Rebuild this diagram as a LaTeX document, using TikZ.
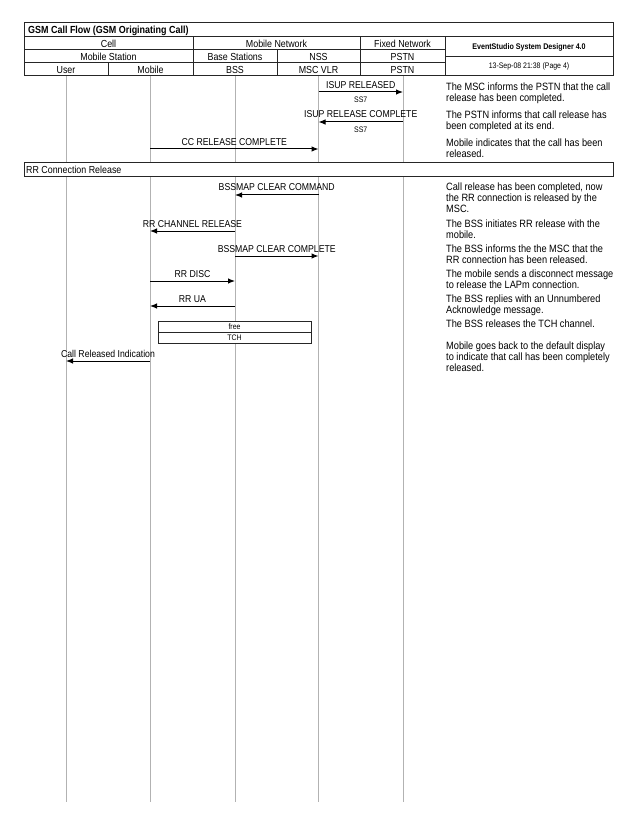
\documentclass[tikz,border=0pt]{standalone}
\usepackage{fontspec}
\setmainfont[FakeStretch=0.87]{Liberation Sans}
\usetikzlibrary{arrows.meta}
\begin{document}
\begin{tikzpicture}[x=1pt,y=-1pt,
  frame/.style={draw=black!85,line width=1pt},
  hdr/.style={font=\fontsize{10.2}{11}\selectfont,inner sep=0pt},
  life/.style={draw=black!30,line width=1pt},
  msg/.style={draw=black,line width=1pt,-{Latex[length=7pt,width=5.5pt]}},
  lbl/.style={font=\fontsize{10}{11}\selectfont,inner sep=0pt,anchor=base},
  small/.style={font=\fontsize{8}{9}\selectfont,inner sep=0pt},
  note/.style={font=\fontsize{10.6}{11}\selectfont,inner sep=0pt,anchor=north west,align=left}]
\useasboundingbox (0,0) rectangle (638,826);
\fill[white] (0,0) rectangle (638,826);
% lifelines
\foreach \n/\x in {user/66,mob/150,bss/235,msc/318.5,pstn/403}{
  \coordinate (\n-t) at (\x,76);
  \coordinate (\n-b) at (\x,802);
  \draw[life] (\n-t) -- (\n-b);
}
% header
\draw[frame,fill=white] (24,23) rectangle (613,76);
\draw[frame] (24,37) -- (613,37);
\draw[frame] (24,50) -- (445,50);
\draw[frame] (24,63) -- (445,63);
\draw[frame] (445,57) -- (613,57);
\draw[frame] (445,37) -- (445,76);
\draw[frame] (193,37) -- (193,76);
\draw[frame] (360,37) -- (360,76);
\draw[frame] (277,50) -- (277,76);
\draw[frame] (108,63) -- (108,76);
\node[font=\bfseries\fontsize{10.3}{11}\selectfont,inner sep=0pt,anchor=west] (title) at (28,30.5) {GSM Call Flow (GSM Originating Call)};
\node[hdr] (cell) at (108.5,43.8) {Cell};
\node[hdr] (mobnet) at (276.5,43.8) {Mobile Network};
\node[hdr] (fixnet) at (402.5,43.8) {Fixed Network};
\node[hdr] (ms) at (108.5,56.8) {Mobile Station};
\node[hdr] (bstat) at (235,56.8) {Base Stations};
\node[hdr] (nss) at (318.5,56.8) {NSS};
\node[hdr] (pstn1) at (402.5,56.8) {PSTN};
\node[hdr] (huser) at (66,69.8) {User};
\node[hdr] (hmob) at (150.5,69.8) {Mobile};
\node[hdr] (hbss) at (235,69.8) {BSS};
\node[hdr] (hmsc) at (318.5,69.8) {MSC VLR};
\node[hdr] (pstn2) at (402.5,69.8) {PSTN};
\node[font=\bfseries\fontsize{8.2}{9}\selectfont,inner sep=0pt] (es) at (529,47.3) {EventStudio System Designer 4.0};
\node[font=\fontsize{8}{9}\selectfont,inner sep=0pt] (date) at (529,66.5) {13-Sep-08 21:38 (Page 4)};
% messages
\coordinate (m1a) at (318.5,92); \coordinate (m1b) at (403,92);
\draw[msg] (m1a) -- (m1b);
\node[lbl] (l1) at (360.75,89) {ISUP RELEASED};
\node[small] (s1) at (360.75,100) {SS7};
\coordinate (m2a) at (403,122); \coordinate (m2b) at (318.5,122);
\draw[msg] (m2a) -- (m2b);
\node[lbl] (l2) at (360.75,118) {ISUP RELEASE COMPLETE};
\node[small] (s2) at (360.75,129.5) {SS7};
\coordinate (m3a) at (150,149); \coordinate (m3b) at (318.5,149);
\draw[msg] (m3a) -- (m3b);
\node[lbl] (l3) at (234.25,146) {CC RELEASE COMPLETE};
% section
\draw[frame,fill=white] (24,163) rectangle (613,176.5);
\node[hdr,anchor=west] (sec) at (26,169.8) {RR Connection Release};
\coordinate (m4a) at (318.5,195); \coordinate (m4b) at (235,195);
\draw[msg] (m4a) -- (m4b);
\node[lbl] (l4) at (276.75,191) {BSSMAP CLEAR COMMAND};
\coordinate (m5a) at (235,231); \coordinate (m5b) at (150,231);
\draw[msg] (m5a) -- (m5b);
\node[lbl] (l5) at (192.5,227) {RR CHANNEL RELEASE};
\coordinate (m6a) at (235,256); \coordinate (m6b) at (318.5,256);
\draw[msg] (m6a) -- (m6b);
\node[lbl] (l6) at (276.75,252) {BSSMAP CLEAR COMPLETE};
\coordinate (m7a) at (150,281); \coordinate (m7b) at (235,281);
\draw[msg] (m7a) -- (m7b);
\node[lbl] (l7) at (192.5,277) {RR DISC};
\coordinate (m8a) at (235,306); \coordinate (m8b) at (150,306);
\draw[msg] (m8a) -- (m8b);
\node[lbl] (l8) at (192.5,302) {RR UA};
% action box
\draw[frame,fill=white] (158,321) rectangle (311,343);
\draw[frame] (158,332) -- (311,332);
\node[small] (free) at (234.5,326.5) {free};
\node[small] (tch) at (234.5,337.5) {TCH};
\coordinate (m9a) at (150,361); \coordinate (m9b) at (66,361);
\draw[msg] (m9a) -- (m9b);
\node[lbl] (l9) at (108,357) {Call Released Indication};
% notes
\node[note] (n1) at (446,83) {The MSC informs the PSTN that the call\\release has been completed.};
\node[note] (n2) at (446,111) {The PSTN informs that call release has\\been completed at its end.};
\node[note] (n3) at (446,139) {Mobile indicates that the call has been\\released.};
\node[note] (n4) at (446,183) {Call release has been completed, now\\the RR connection is released by the\\MSC.};
\node[note] (n5) at (446,219.5) {The BSS initiates RR release with the\\mobile.};
\node[note] (n6) at (446,245) {The BSS informs the the MSC that the\\RR connection has been released.};
\node[note] (n7) at (446,270) {The mobile sends a disconnect message\\to release the LAPm connection.};
\node[note] (n8) at (446,294.5) {The BSS replies with an Unnumbered\\Acknowledge message.};
\node[note] (n9) at (446,319.5) {The BSS releases the TCH channel.};
\node[note] (n10) at (446,341.5) {Mobile goes back to the default display\\to indicate that call has been completely\\released.};
\end{tikzpicture}
\end{document}
